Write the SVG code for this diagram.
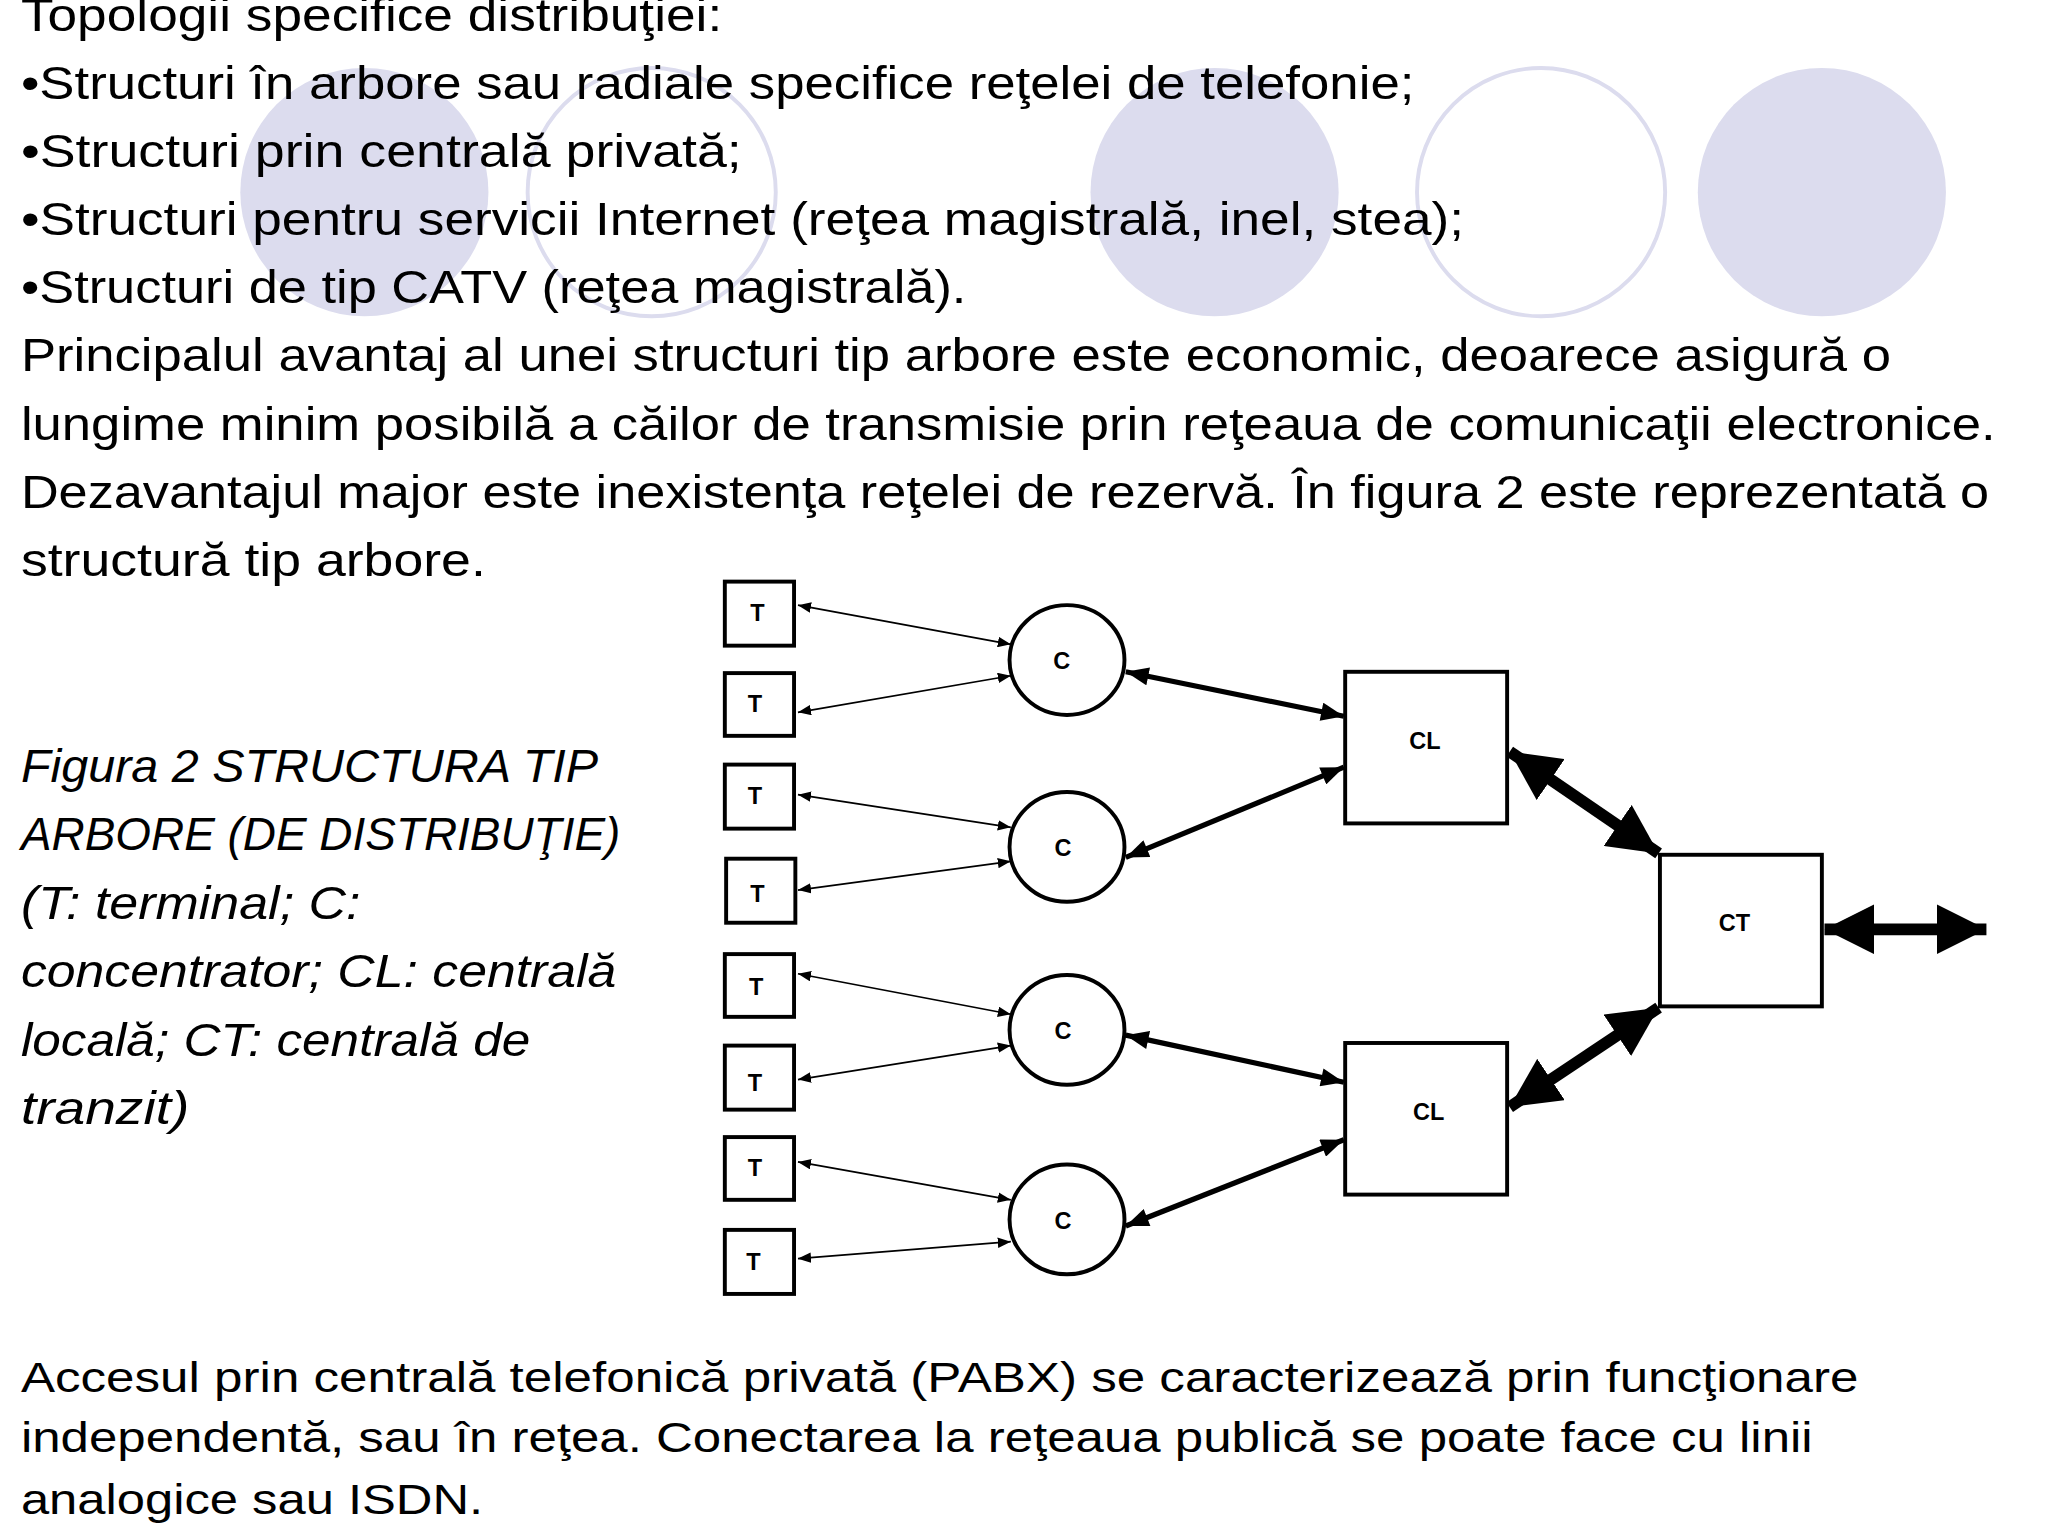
<svg xmlns="http://www.w3.org/2000/svg" width="2048" height="1536" viewBox="0 0 2048 1536">
<style>
.t{font-family:"Liberation Sans",Arial,sans-serif;font-size:35px;fill:#000}
.i{font-family:"Liberation Sans",Arial,sans-serif;font-size:35px;font-style:italic;fill:#000}
.b{font-family:"Liberation Sans",Arial,sans-serif;font-size:33px;fill:#000}
.lb{font-family:"Liberation Sans",Arial,sans-serif;font-size:18px;font-weight:bold;text-anchor:middle;fill:#000}
.box{fill:#fff;stroke:#000;stroke-width:3}
.deco{fill:#dcdcee}
.decoo{fill:none;stroke:#dcdcee;stroke-width:3}
.c1{stroke:#000;stroke-width:1.3;fill:none;marker-start:url(#a1);marker-end:url(#a1)}
.c2{stroke:#000;stroke-width:4;fill:none;marker-start:url(#a2);marker-end:url(#a2)}
.c3{stroke:#000;stroke-width:9;fill:none;marker-start:url(#a3);marker-end:url(#a3)}
</style>
<defs>
<marker id="a1" viewBox="0 0 10 8" refX="10" refY="4" markerWidth="10" markerHeight="8" markerUnits="userSpaceOnUse" orient="auto-start-reverse"><path d="M0,0L10,4L0,8z"/></marker>
<marker id="a2" viewBox="0 0 10 8" refX="10" refY="4" markerWidth="18" markerHeight="14" markerUnits="userSpaceOnUse" orient="auto-start-reverse"><path d="M0,0L10,4L0,8z"/></marker>
<marker id="a3" viewBox="0 0 10 10" refX="10" refY="5" markerWidth="38" markerHeight="38" markerUnits="userSpaceOnUse" orient="auto-start-reverse"><path d="M0,0L10,5L0,10z"/></marker>
</defs>
<g transform="scale(1.306,1.307)">
<g id="decor">
<circle class="deco" cx="279" cy="147" r="95"/>
<circle class="decoo" cx="499" cy="147" r="95"/>
<circle class="deco" cx="930" cy="147" r="95"/>
<circle class="decoo" cx="1180" cy="147" r="95"/>
<circle class="deco" cx="1395" cy="147" r="95"/>
</g>
<g id="text">
<text class="t" x="16" y="24" textLength="537" lengthAdjust="spacingAndGlyphs">Topologii specifice distribuţiei:</text>
<text class="t" x="16" y="76" textLength="1067" lengthAdjust="spacingAndGlyphs">•Structuri în arbore sau radiale specifice reţelei de telefonie;</text>
<text class="t" x="16" y="128" textLength="552" lengthAdjust="spacingAndGlyphs">•Structuri prin centrală privată;</text>
<text class="t" x="16" y="180" textLength="1105" lengthAdjust="spacingAndGlyphs">•Structuri pentru servicii Internet (reţea magistrală, inel, stea);</text>
<text class="t" x="16" y="232" textLength="724" lengthAdjust="spacingAndGlyphs">•Structuri de tip CATV (reţea magistrală).</text>
<text class="t" x="16" y="284" textLength="1432" lengthAdjust="spacingAndGlyphs">Principalul avantaj al unei structuri tip arbore este economic, deoarece asigură  o</text>
<text class="t" x="16" y="337" textLength="1512" lengthAdjust="spacingAndGlyphs">lungime minim posibilă a căilor de transmisie prin reţeaua de comunicaţii electronice.</text>
<text class="t" x="16" y="389" textLength="1507" lengthAdjust="spacingAndGlyphs">Dezavantajul major este inexistenţa reţelei de rezervă. În figura 2 este reprezentată o</text>
<text class="t" x="16" y="441" textLength="356" lengthAdjust="spacingAndGlyphs">structură tip arbore.</text>
<text class="i" x="16" y="598" textLength="442" lengthAdjust="spacingAndGlyphs">Figura 2  STRUCTURA TIP</text>
<text class="i" x="16" y="650" textLength="459" lengthAdjust="spacingAndGlyphs">ARBORE (DE DISTRIBUŢIE)</text>
<text class="i" x="16" y="703" textLength="260" lengthAdjust="spacingAndGlyphs">(T: terminal; C:</text>
<text class="i" x="16" y="755" textLength="456" lengthAdjust="spacingAndGlyphs">concentrator; CL: centrală</text>
<text class="i" x="16" y="808" textLength="390" lengthAdjust="spacingAndGlyphs">locală; CT: centrală de</text>
<text class="i" x="16" y="860" textLength="129" lengthAdjust="spacingAndGlyphs">tranzit)</text>
<text class="b" x="16" y="1065" textLength="1407" lengthAdjust="spacingAndGlyphs">Accesul prin centrală telefonică privată (PABX) se caracterizează prin funcţionare</text>
<text class="b" x="16" y="1111" textLength="1372" lengthAdjust="spacingAndGlyphs">independentă, sau în reţea. Conectarea la reţeaua publică se poate face cu linii</text>
<text class="b" x="16" y="1158" textLength="354" lengthAdjust="spacingAndGlyphs">analogice sau ISDN.</text>
</g>
<g id="connectors">
<line class="c1" x1="611" y1="463" x2="774" y2="493"/>
<line class="c1" x1="611" y1="545" x2="774" y2="517"/>
<line class="c1" x1="611" y1="608" x2="774" y2="633"/>
<line class="c1" x1="611" y1="681" x2="774" y2="659"/>
<line class="c1" x1="611" y1="745" x2="774" y2="776"/>
<line class="c1" x1="611" y1="826" x2="774" y2="800"/>
<line class="c1" x1="611" y1="889" x2="774" y2="918"/>
<line class="c1" x1="611" y1="963" x2="774" y2="950"/>
<line class="c2" x1="862" y1="514" x2="1029" y2="548"/>
<line class="c2" x1="862" y1="656" x2="1029" y2="587"/>
<line class="c2" x1="862" y1="792" x2="1029" y2="828"/>
<line class="c2" x1="862" y1="938" x2="1029" y2="872"/>
<line class="c3" x1="1156" y1="575" x2="1270" y2="653"/>
<line class="c3" x1="1156" y1="847" x2="1270" y2="771"/>
<line class="c3" x1="1397" y1="711" x2="1521" y2="711"/>
</g>
<g id="T1"><rect class="box" x="555" y="445" width="53" height="49"/><text class="lb" x="580" y="475">T</text></g>
<g id="T2"><rect class="box" x="555" y="515" width="53" height="48"/><text class="lb" x="578" y="545">T</text></g>
<g id="T3"><rect class="box" x="555" y="585" width="53" height="49"/><text class="lb" x="578" y="615">T</text></g>
<g id="T4"><rect class="box" x="556" y="657" width="53" height="49"/><text class="lb" x="580" y="690">T</text></g>
<g id="T5"><rect class="box" x="555" y="730" width="53" height="48"/><text class="lb" x="579" y="761">T</text></g>
<g id="T6"><rect class="box" x="555" y="800" width="53" height="49"/><text class="lb" x="578" y="835">T</text></g>
<g id="T7"><rect class="box" x="555" y="870" width="53" height="48"/><text class="lb" x="578" y="900">T</text></g>
<g id="T8"><rect class="box" x="555" y="941" width="53" height="49"/><text class="lb" x="577" y="972">T</text></g>
<g id="C1"><ellipse class="box" cx="817" cy="505" rx="44" ry="42"/><text class="lb" x="813" y="512">C</text></g>
<g id="C2"><ellipse class="box" cx="817" cy="648" rx="44" ry="42"/><text class="lb" x="814" y="655">C</text></g>
<g id="C3"><ellipse class="box" cx="817" cy="788" rx="44" ry="42"/><text class="lb" x="814" y="795">C</text></g>
<g id="C4"><ellipse class="box" cx="817" cy="933" rx="44" ry="42"/><text class="lb" x="814" y="940">C</text></g>
<g id="CL1"><rect class="box" x="1030" y="514" width="124" height="116"/><text class="lb" x="1091" y="573">CL</text></g>
<g id="CL2"><rect class="box" x="1030" y="798" width="124" height="116"/><text class="lb" x="1094" y="857">CL</text></g>
<g id="CT"><rect class="box" x="1271" y="654" width="124" height="116"/><text class="lb" x="1328" y="712">CT</text></g>
</g>
</svg>
